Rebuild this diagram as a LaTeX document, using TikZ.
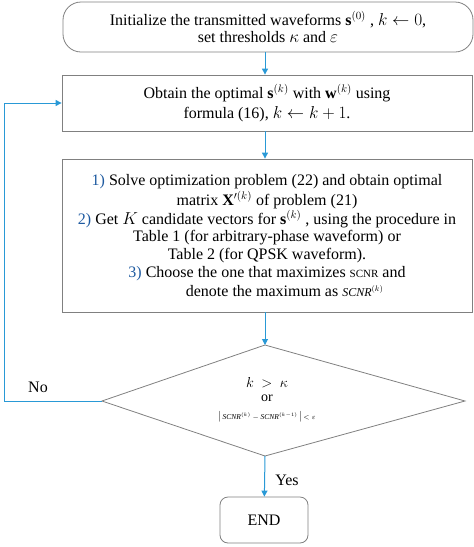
\documentclass[tikz,border=0pt]{standalone}
\usepackage{fontspec}
\setmainfont{Liberation Serif}
\usetikzlibrary{arrows.meta}
\definecolor{flowblue}{RGB}{41,153,214}
\definecolor{stepblue}{RGB}{30,90,160}
\definecolor{boxgray}{RGB}{128,128,128}
\tikzset{
  procbox/.style={draw=boxgray, line width=0.8pt, minimum width=410pt, align=center, inner sep=0pt},
  flow/.style={draw=flowblue, line width=1pt, -{Triangle[length=6pt,width=6pt]}},
}
\newcommand{\stepno}[1]{\textcolor{stepblue}{#1)}}
\newcommand{\scnrsc}{{\fontsize{11}{11}\selectfont SCNR}}
\newcommand{\tallbar}{{\fontsize{11}{11}\selectfont$|$}}

\begin{document}
\begin{tikzpicture}[x=1pt,y=-1pt,font=\fontsize{16}{17.5}\selectfont]
\useasboundingbox (0,0) rectangle (474,547);
\node[procbox, rounded corners=18pt, minimum height=50pt] (init) at (268,27)
  {Initialize the transmitted waveforms $\mathbf{s}^{(0)}$ , $k\leftarrow 0$,\\
   set thresholds $\kappa$ and $\varepsilon$};
\node[procbox, minimum height=56pt] (obtain) at (267,103)
  {Obtain the optimal $\mathbf{s}^{(k)}$ with $\mathbf{w}^{(k)}$ using\\[2pt]
   formula (16), $k\leftarrow k+1$.};
\node[procbox, minimum height=153pt] (solve) at (267,235.5)
  {\stepno{1} Solve optimization problem (22) and obtain optimal\\[1pt]
   matrix $\mathbf{X}^{\prime(k)}$ of problem (21)\\
   \stepno{2} Get $K$ candidate vectors for $\mathbf{s}^{(k)}$ , using the procedure in\\
   Table 1 (for arbitrary-phase waveform) or\\
   Table 2 (for QPSK waveform).\\[1pt]
   \stepno{3} Choose the one that maximizes \scnrsc{} and\\[1pt]
   \hspace*{2.2em}denote the maximum as {\fontsize{12}{12}\selectfont$\mathit{SCNR}^{(k)}$}};
% decision
\coordinate (condtop) at (265,345);
\coordinate (condright) at (465,401);
\coordinate (condbot) at (265,456);
\coordinate (condleft) at (102,401);
\draw[boxgray, line width=0.8pt] (condtop) -- (condright) -- (condbot) -- (condleft) -- cycle;
\node[align=center, font=\fontsize{14}{13}\selectfont] (cond) at (267,400)
  {$k\ >\ \kappa$\\[1pt] or\\[5pt]
   {\fontsize{7.5}{9}\selectfont\tallbar$\,\mathit{SCNR}^{(k)}-\mathit{SCNR}^{(k-1)}\,$\tallbar$\,<\varepsilon$}};
\node[draw=boxgray, line width=0.8pt, rounded corners=8pt, minimum width=88pt, minimum height=46pt] (endnode) at (264,520) {END};
\coordinate (noturn) at (4,401);
\draw[flow] (init.south -| condtop) -- (obtain.north -| condtop);
\draw[flow] (obtain.south -| condtop) -- (solve.north -| condtop);
\draw[flow] (solve.south -| condtop) -- (condtop);
\draw[flow] (condbot) -- (endnode);
\draw[flow] (condleft) -- (noturn) |- (obtain.west);
\node at (38,387) {No};
\node at (287,480) {Yes};
\end{tikzpicture}
\end{document}
